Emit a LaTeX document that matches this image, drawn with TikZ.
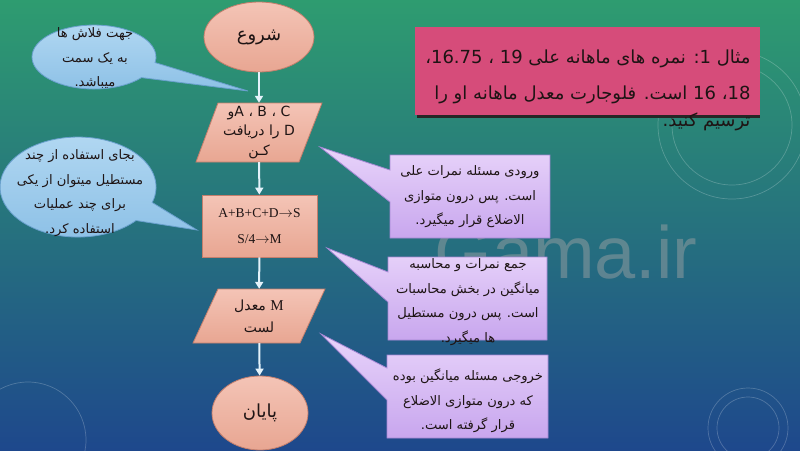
\documentclass[tikz,border=0pt]{standalone}
\usepackage{fontspec}
\usetikzlibrary{shapes.geometric,arrows.meta,calc}
\TeXXeTstate=1
\newfontfamily\arabicfont[Script=Arabic]{DejaVu Sans}
\newfontfamily\seriffont{Liberation Serif}
\newfontfamily\wmfont{Liberation Sans}
\newcommand\rl[1]{\beginR #1\endR}
\newcommand\lr[1]{\beginL #1\endL{}}
\definecolor{bgtop}{RGB}{46,156,112}
\definecolor{bgmid}{RGB}{32,116,128}
\definecolor{bgbot}{RGB}{30,72,140}
\definecolor{salmon}{RGB}{232,166,146}
\definecolor{salmonlt}{RGB}{244,196,182}
\definecolor{salmondk}{RGB}{196,126,108}
\definecolor{bluefill}{RGB}{140,192,230}
\definecolor{bluelt}{RGB}{178,216,242}
\definecolor{bluedk}{RGB}{105,160,205}
\definecolor{purp}{RGB}{200,166,238}
\definecolor{purplt}{RGB}{232,212,250}
\definecolor{purpdk}{RGB}{165,135,212}
\definecolor{pinkbox}{RGB}{214,76,122}
\definecolor{arrowc}{RGB}{228,242,250}
\definecolor{txt}{RGB}{30,20,20}
\begin{document}
\begin{tikzpicture}[x=1pt,y=-1pt,
  salm/.style={draw=salmondk, line width=0.8pt, top color=salmonlt, bottom color=salmon},
  bcall/.style={draw=bluedk, line width=0.8pt, top color=bluelt, bottom color=bluefill},
  pcall/.style={draw=purpdk, line width=0.8pt, top color=purplt, bottom color=purp},
  flow/.style={draw=arrowc, line width=2pt, -{Triangle[length=7pt,width=8pt]}},
  ftext/.style={text=txt, align=center, font=\arabicfont\fontsize{14}{19.5}\selectfont},
  ctext/.style={text=txt, align=center, font=\arabicfont\fontsize{13.1}{24.5}\selectfont},
  ttext/.style={text=txt, anchor=base east, font=\arabicfont\fontsize{18}{20}\selectfont},
  box/.style={inner sep=0pt, minimum width=104pt}]
\useasboundingbox (0,0) rectangle (800,450);
\shade[top color=bgtop, middle color=bgmid, bottom color=bgbot] (0,0) rectangle (800,450);
% decorative rings
\begin{scope}[draw=white, opacity=0.22, line width=0.7pt]
\draw (732,125) circle[radius=74];
\draw (732,125) circle[radius=60];
\draw (748,428) circle[radius=40];
\draw (748,428) circle[radius=31];
\draw (28,440) circle[radius=58];
\end{scope}
% watermark
\node[text=gray!70, opacity=0.45, font=\wmfont\fontsize{74}{74}\selectfont] (wm) at (566,252) {Gama.ir};

% title box
\fill[black!85] (417,113) rectangle (760,118);
\fill[pinkbox] (415,27) rectangle (760,115);
\node[ttext] (t1) at (754,63) {\rl{مثال \lr{1}: نمره های ماهانه علی \lr{19} ، \lr{16.75}،}};
\node[ttext] (t2) at (754,99) {\rl{\lr{18}، \lr{16} است. فلوجارت  معدل ماهانه او را}};
\node[ttext] (t3) at (754,126) {\rl{ترسیم کنید.}};

% blue callouts
\path[bcall] (141.5,77.6) arc[start angle=40, end angle=370, x radius=62, y radius=32] -- (248,91) -- cycle;
\node[ctext] (b1) at (95,58) {\rl{جهت فلاش ها}\\\rl{به یک سمت}\\\rl{میباشد.}};
\path[bcall] (136,220.5) arc[start angle=42, end angle=378, x radius=78, y radius=50] -- (197,230) -- cycle;
\node[ctext] (b2) at (80,193) {\rl{بجای استفاده از چند}\\\rl{مستطیل میتوان از یکی}\\\rl{برای چند عملیات}\\\rl{استفاده کرد.}};

% purple callouts
\path[pcall] (390,155) -- (550,155) -- (550,238) -- (390,238) -- (390,202) -- (320,147) -- (390,170) -- cycle;
\node[ctext] (p1) at (470,197) {\rl{ورودی مسئله نمرات علی}\\\rl{است. پس درون متوازی}\\\rl{الاضلاع قرار میگیرد.}};
\path[pcall] (388,257) -- (547,257) -- (547,340) -- (388,340) -- (388,302) -- (327,248) -- (388,272) -- cycle;
\node[ctext] (p2) at (468,302) {\rl{جمع نمرات و محاسبه}\\\rl{میانگین در بخش محاسبات}\\\rl{است. پس درون مستطیل}\\\rl{ها میگیرد.}};
\path[pcall] (387,355) -- (548,355) -- (548,438) -- (387,438) -- (387,400) -- (321,334) -- (387,368) -- cycle;
\node[ctext] (p3) at (468,401) {\rl{خروجی مسئله میانگین بوده}\\\rl{که درون متوازی الاضلاع}\\\rl{قرار گرفته است.}};

% flowchart
\node[ellipse, salm, minimum width=110pt, minimum height=70pt, ftext, font=\arabicfont\fontsize{18}{20}\selectfont] (start) at (259,37) {\rl{شروع}};
\draw[salm] (218,103) -- (322,103) -- (299,162) -- (196,162) -- cycle;
\node[box, minimum height=59pt, ftext] (inp) at (259,132.5) {\rl{\lr{A ، B ، C}و}\\\rl{D را دریافت}\\\rl{کـن}};
\node[draw=salmondk, line width=0.8pt, top color=salmonlt, bottom color=salmon, minimum width=115pt, minimum height=62pt, inner sep=0pt, align=center, text=txt, font=\seriffont\fontsize{13.5}{26}\selectfont] (calc) at (259.5,226) {A+B+C+D$\to$S\\S/4$\to$M};
\draw[salm] (218,289) -- (325,289) -- (300,343) -- (193,343) -- cycle;
\node[box, minimum height=54pt, ftext, font=\arabicfont\fontsize{14}{22}\selectfont] (out) at (259,316) {\rl{{\seriffont\fontsize{15}{22}\selectfont M} معدل}\\\rl{لست}};
\node[ellipse, salm, minimum width=96pt, minimum height=74pt, ftext, font=\arabicfont\fontsize{18}{20}\selectfont] (end) at (260,413) {\rl{پایان}};

\draw[flow] (start) -- (inp);
\draw[flow] (inp) -- (calc);
\draw[flow] (calc) -- (out);
\draw[flow] (out) -- (end);
\end{tikzpicture}
\end{document}
